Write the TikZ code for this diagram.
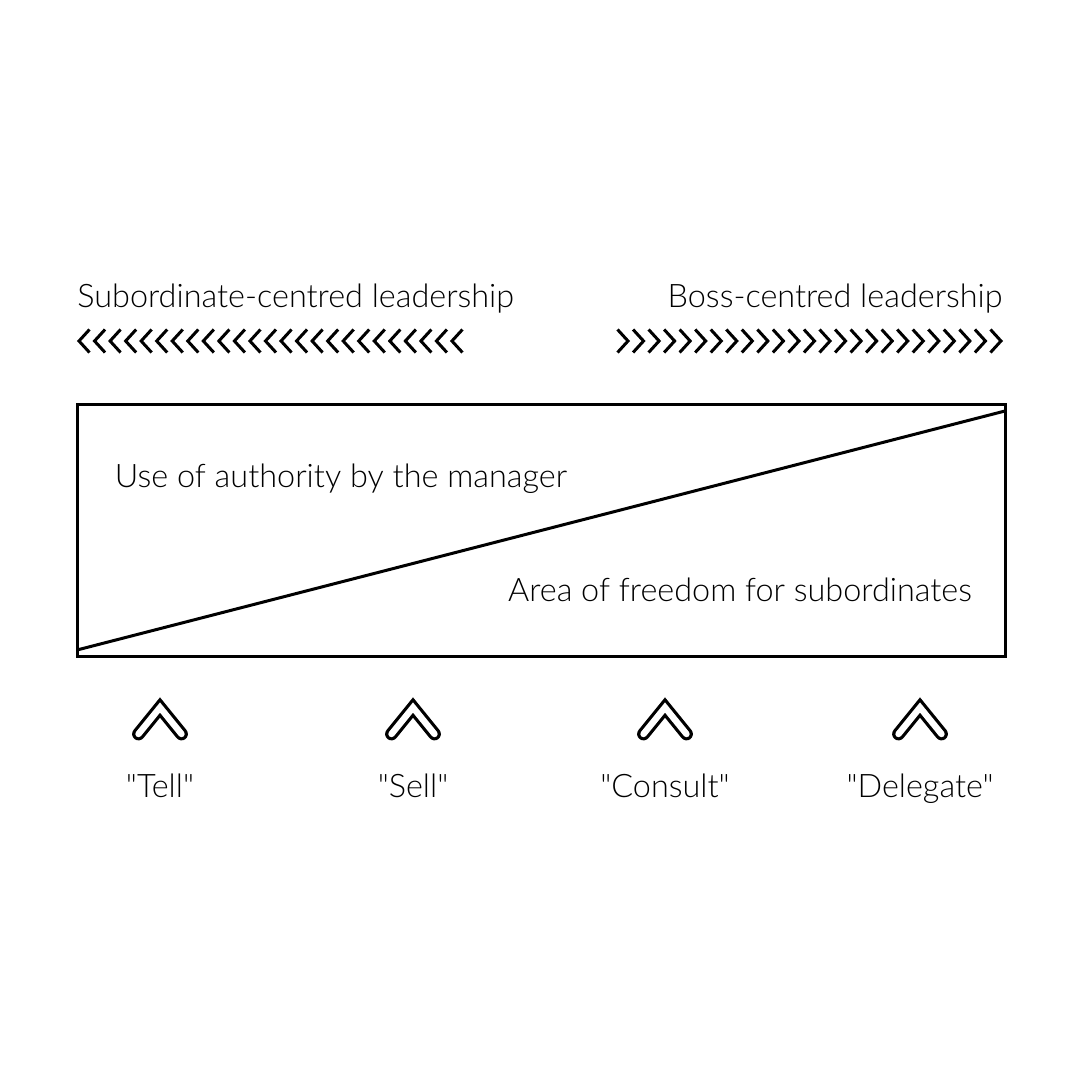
\documentclass[tikz,border=0pt]{standalone}
\usepackage{fontspec}
\setmainfont{Lato Light}[Ligatures=TeXOff]
\begin{document}
\begin{tikzpicture}[x=0.5pt,y=-0.5pt,
  every node/.style={inner sep=0pt,font=\fontsize{16.2}{20}\selectfont},
  chev/.style={line width=1.5pt,miter limit=10},
  caret/.style={line width=1.6pt,double=white,double distance=3.2pt,line cap=round}]
\useasboundingbox[fill=white] (0,0) rectangle (1080,1080);

\path (77,307) node[anchor=base west](sub){Subordinate-centred leadership}
  (1003,307) node[anchor=base east](boss){Boss-centred leadership};
\foreach \i in {0,...,24}{
  \draw[chev] (89.5+15.54*\i,329.5) -- (79+15.54*\i,341) -- (89.5+15.54*\i,352.5);
  \draw[chev] (617.5+15.54*\i,329.5) -- (628+15.54*\i,341) -- (617.5+15.54*\i,352.5);
}

\coordinate (b1) at (77,404); \coordinate (b2) at (1005,656);
\coordinate (d1) at (77,650); \coordinate (d2) at (1005,411);
\draw[line width=1.5pt] (b1) rectangle (b2);
\draw[line width=1.5pt] (d1) -- (d2);
\path (341,487) node[anchor=base](auth){Use of authority by the manager}
  (740,601) node[anchor=base](free){Area of freedom for subordinates};

\foreach \x/\n/\t in {160/tell/"Tell",413/sell/"Sell",665/consult/"Consult",920/delegate/"Delegate"}{
  \node[anchor=base](\n) at (\x,797){\t};
  \draw[caret] (\x-21.5,734) -- (\x,707.5) -- (\x+21.5,734);
}
\end{tikzpicture}
\end{document}
